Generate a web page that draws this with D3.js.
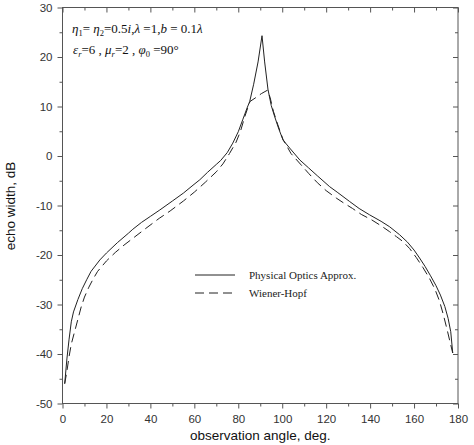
<!DOCTYPE html>
<html><head><meta charset="utf-8">
<script src="https://cdn.jsdelivr.net/npm/d3@7"></script>
<style>body{margin:0;background:#fff}svg{display:block}</style>
</head><body><svg id="c" width="474" height="445"></svg>
<script>
const xTicks = [0,20,40,60,80,100,120,140,160,180];
const yTicks = [-50,-40,-30,-20,-10,0,10,20,30];
const seriesNames = ["Physical Optics Approx.","Wiener-Hopf"];
const physicalOptics = [
[1,-46],[2,-41],[3,-37],[4,-33.5],[5,-31.5],[7,-29],[9,-26.8],[11,-25],[13,-23.3],[17,-21],[20,-19.6],[25,-17.5],[30,-15.6],[32,-14.8],[36,-13.4],[40,-12.2],[44.3,-10.9],[50,-9.1],[55,-7.5],[59.4,-5.9],[62.5,-4.8],[66,-3.3],[70,-1.7],[72,-0.9],[75,0.7],[77.5,2.6],[80,4.9],[82,7.3],[84,9.7],[85.2,11],[87,14.5],[89,19],[90.8,24.3],
[92,19],[93.5,13.5],[95,10.2],[96.6,7.9],[98.5,5.4],[100.4,3.2],[103.4,1.6],[108,-0.8],[112,-2.4],[116,-4],[121.6,-6.2],[125,-7.3],[130.7,-9.2],[135,-10.6],[139.8,-11.9],[145,-13.2],[148.9,-14.3],[153.4,-15.9],[157,-17.4],[160,-19],[162.5,-20.6],[165,-22.3],[167.5,-24.2],[170,-26.2],[172,-28.1],[174,-30.4],[175.5,-32.8],[176.7,-35.5],[177.6,-39.8]
];
const wienerHopf = [
[1,-46],[2,-43.5],[3,-40.5],[4,-38],[5.5,-35.5],[7,-33],[8.5,-30.5],[10,-28.5],[12,-26.5],[14,-24.8],[16,-23.3],[20,-21.2],[24,-19.5],[28,-18],[33,-16.3],[38,-14.6],[44,-12.6],[49,-11.1],[55,-9.1],[60,-7.3],[65,-5.3],[70,-3.2],[73,-1.6],[76,0.5],[79,2.8],[81,5],[83,8],[85.3,11],[88,11.8],[90.5,12.6],[93.3,13.3],
[94.5,11.8],[96,9],[98,6.3],[100.3,3.4],[104,0.5],[108.6,-1.8],[112,-3.5],[116,-5.4],[120,-7],[124.6,-8.5],[128,-9.5],[132,-10.6],[136,-11.8],[140.7,-12.9],[145,-14.1],[148.9,-15.3],[152,-16.3],[155,-17.3],[158,-18.7],[161,-20.5],[164,-22.5],[167,-24.7],[169.5,-26.9],[171.5,-29.2],[173.3,-32],[175,-35],[176.5,-37.8],[177.6,-39.8]
];

const svg = d3.select("#c");
const L = 62.5, R = 458, T = 7.5, B = 403.5;
const x = d3.scaleLinear().domain([0,180]).range([L,R]);
const y = d3.scaleLinear().domain([-50,30]).range([B,T]);
const axisCol = "#555";

svg.append("rect").attr("x",L).attr("y",T).attr("width",R-L).attr("height",B-T)
  .attr("fill","none").attr("stroke",axisCol).attr("stroke-width",1);

const sans = "'Liberation Sans', Arial, sans-serif";
const serif = "'Liberation Serif', 'Times New Roman', serif";

const xb = svg.append("g").attr("transform",`translate(0,${B})`)
  .call(d3.axisBottom(x).tickValues(d3.range(0,181,10)).tickSize(4)
    .tickFormat(d => xTicks.includes(d) ? String(d) : ""));
xb.select(".domain").remove();
xb.selectAll(".tick line").attr("stroke",axisCol).attr("y2", d => d%20===0?5:3);
xb.selectAll(".tick text").attr("font-family",sans).attr("font-size",11.5).attr("fill","#333").attr("dy","1.05em");

const xt = svg.append("g").attr("transform",`translate(0,${T})`)
  .call(d3.axisBottom(x).tickValues(d3.range(0,181,10)).tickSize(4).tickFormat(""));
xt.select(".domain").remove();
xt.selectAll(".tick line").attr("stroke",axisCol).attr("y2", d => d%20===0?5:3);

const yl = svg.append("g").attr("transform",`translate(${L},0)`)
  .call(d3.axisLeft(y).tickValues(d3.range(-50,31,5)).tickSize(5)
    .tickFormat(d => yTicks.includes(d) ? String(d).replace("\u2212","-") : ""));
yl.select(".domain").remove();
yl.selectAll(".tick line").attr("stroke",axisCol).attr("x2", d => d%10===0?-5:-3);
yl.selectAll(".tick text").attr("font-family",sans).attr("font-size",11.5).attr("fill","#333").attr("x",-10);

const yr = svg.append("g").attr("transform",`translate(${R},0)`)
  .call(d3.axisLeft(y).tickValues(d3.range(-50,31,5)).tickSize(4).tickFormat(""));
yr.select(".domain").remove();
yr.selectAll(".tick line").attr("stroke",axisCol).attr("x2", d => d%10===0?-5:-3);

const line = d3.line().x(d=>x(d[0])).y(d=>y(d[1]));
const g = svg.append("g");
g.append("path").datum(physicalOptics).attr("d",line).attr("fill","none")
  .attr("stroke","#222").attr("stroke-width",1);
g.append("path").datum(wienerHopf).attr("d",line).attr("fill","none")
  .attr("stroke","#222").attr("stroke-width",1).attr("stroke-dasharray","9,5");

const lg = svg.append("g");
lg.append("line").attr("x1",195).attr("x2",235).attr("y1",275).attr("y2",275).attr("stroke","#222");
lg.append("line").attr("x1",195).attr("x2",237).attr("y1",293).attr("y2",293).attr("stroke","#222").attr("stroke-dasharray","9,5");
lg.append("text").attr("x",249).attr("y",278.5).attr("font-family",serif).attr("font-size",11).attr("fill","#222").text(seriesNames[0]);
lg.append("text").attr("x",249).attr("y",296.5).attr("font-family",serif).attr("font-size",11).attr("fill","#222").text(seriesNames[1]);

const t1 = svg.append("text").attr("x",72).attr("y",33).attr("font-family",serif).attr("font-size",13).attr("fill","#111");
t1.append("tspan").attr("font-style","italic").text("η");
t1.append("tspan").attr("font-size",8.5).attr("dy",3).text("1");
t1.append("tspan").attr("dy",-3).text("= ");
t1.append("tspan").attr("font-style","italic").text("η");
t1.append("tspan").attr("font-size",8.5).attr("dy",3).text("2");
t1.append("tspan").attr("dy",-3).text("=0.5");
t1.append("tspan").attr("font-style","italic").text("i");
t1.append("tspan").text(",");
t1.append("tspan").attr("font-style","italic").text("λ");
t1.append("tspan").text(" =1,");
t1.append("tspan").attr("font-style","italic").text("b");
t1.append("tspan").text(" = 0.1");
t1.append("tspan").attr("font-style","italic").text("λ");

const t2 = svg.append("text").attr("x",73).attr("y",54).attr("font-family",serif).attr("font-size",13).attr("fill","#111");
t2.append("tspan").attr("font-style","italic").text("ε");
t2.append("tspan").attr("font-size",8.5).attr("font-style","italic").attr("dy",3).text("r");
t2.append("tspan").attr("dy",-3).text("=6 , ");
t2.append("tspan").attr("font-style","italic").text("μ");
t2.append("tspan").attr("font-size",8.5).attr("font-style","italic").attr("dy",3).text("r");
t2.append("tspan").attr("dy",-3).text("=2 , ");
t2.append("tspan").attr("font-style","italic").text("φ");
t2.append("tspan").attr("font-size",8.5).attr("dy",3).text("0");
t2.append("tspan").attr("dy",-3).text(" =90°");

svg.append("text").attr("x",(L+R)/2).attr("y",440).attr("text-anchor","middle")
  .attr("font-family",sans).attr("font-size",13.5).attr("fill","#111").text("observation angle, deg.");
svg.append("text").attr("transform","translate(15,206) rotate(-90)").attr("text-anchor","middle")
  .attr("font-family",sans).attr("font-size",13.5).attr("fill","#111").text("echo width, dB");
</script></body></html>
